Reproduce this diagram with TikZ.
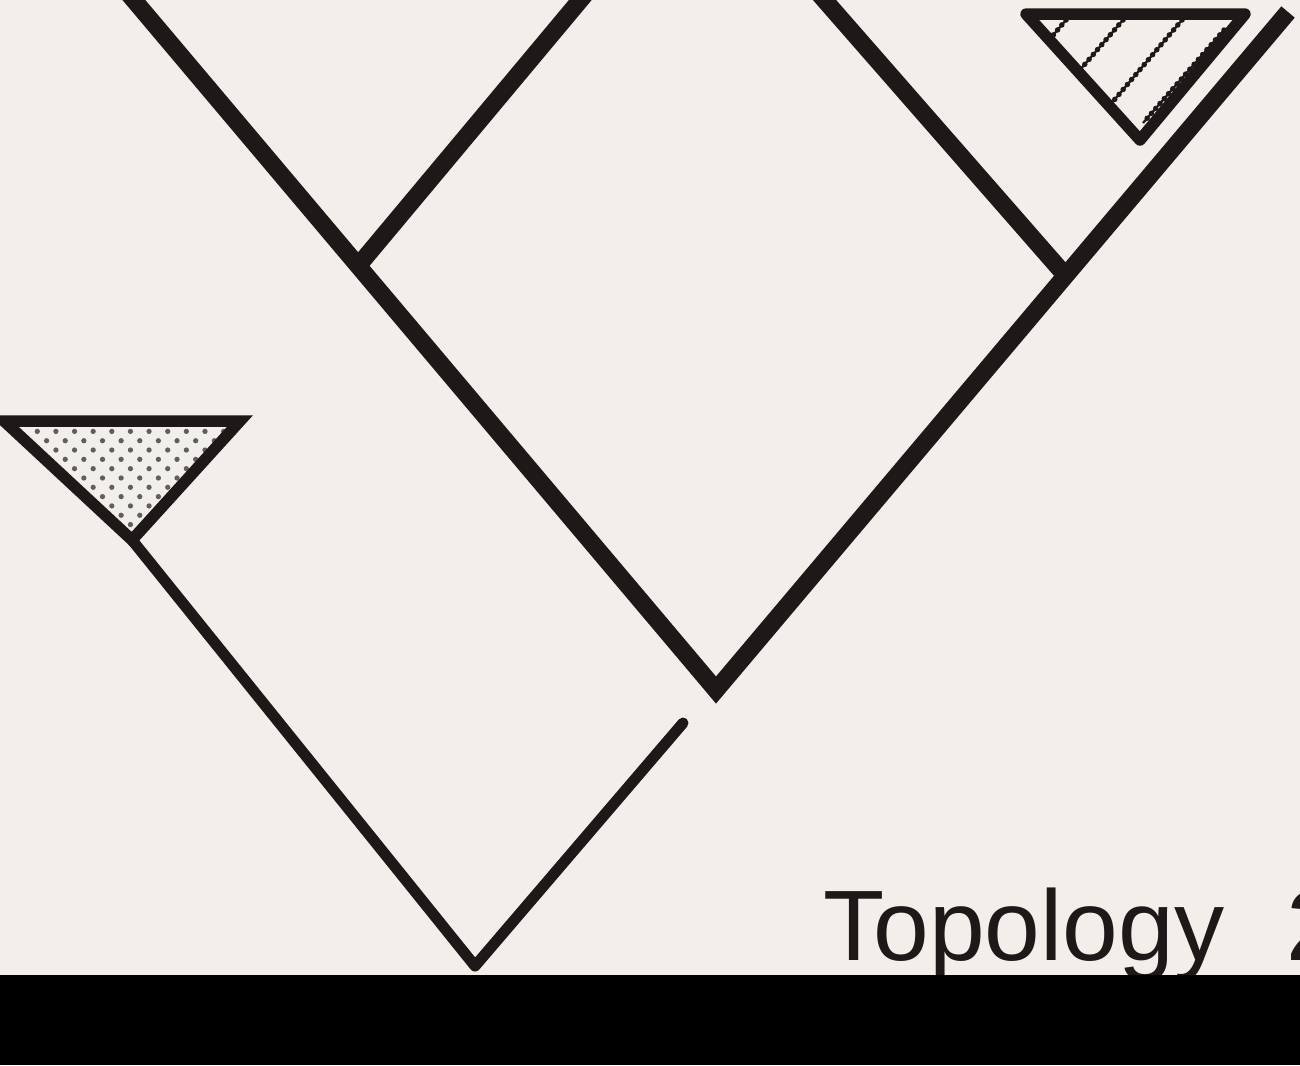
\documentclass[tikz,border=0pt]{standalone}
\usepackage{fontspec}
\newfontfamily\labelfont{Liberation Sans}
\usetikzlibrary{patterns.meta}
\definecolor{paper}{RGB}{242, 239, 235}
\definecolor{ink}{RGB}{30, 24, 24}
\definecolor{stipple}{RGB}{95, 95, 95}

\begin{document}
\begin{tikzpicture}[
        x=0.02cm, y=-0.02cm,
        stem/.style={draw=ink, line width=0.35cm, line join=miter},
        twig/.style={draw=ink, line width=0.22cm, line join=round, line cap=round},
        clade/.style={draw=ink, line width=0.23cm},
        hatchline/.style={
            draw=ink, line width=0.045cm,
            postaction={draw=ink, line width=0.11cm, line cap=round, dash pattern=on 0pt off 0.13cm}
        },
        caption/.style={text=ink, anchor=base west, inner sep=0pt,
            font=\labelfont\fontsize{57}{60}\selectfont}
    ]
    \clip (0,0) rectangle (1300,1065);
    \fill[paper] (0,0) rectangle (1300,1065);

    % main tree
    \coordinate (topleft) at (117,-20);
    \coordinate (fork1) at (358,266);
    \coordinate (tip1) at (597,-20);
    \coordinate (root) at (716,690);
    \coordinate (fork2) at (1065,275);
    \coordinate (tip2) at (807,-20);
    \coordinate (armend) at (1288,12);

    \draw[stem] (topleft) -- (root) -- (armend);
    \draw[stem] (fork1) -- (tip1);
    \draw[stem] (fork2) -- (tip2);

    % hatched clade
    \coordinate (h1) at (1026,14);
    \coordinate (h2) at (1245,14);
    \coordinate (h3) at (1140,140);
    \draw[clade, line join=round] (h1) -- (h2) -- (h3) -- cycle;
    \draw[hatchline] (1066,20) -- (1049,40);
    \draw[hatchline] (1123,20) -- (1079,71);
    \draw[hatchline] (1182,20) -- (1110,105);
    \draw[hatchline] (1224,30) -- (1143,123);

    % stippled clade and second tree
    \coordinate (s1) at (4,421);
    \coordinate (s2) at (240,421);
    \coordinate (s3) at (132,540);
    \coordinate (lowroot) at (475,966);
    \coordinate (lowend) at (683,723);
    \draw[clade, line join=miter, pattern={Dots[distance=7.5pt, radius=1.5pt, angle=45]},
        pattern color=stipple] (s1) -- (s2) -- (s3) -- cycle;
    \draw[twig] (s3) -- (lowroot) -- (lowend);

    \node[caption] (label) at (823,960) {Topology\hspace{1.25cm}2};

    \fill[black] (0,975) rectangle (1300,1065);
\end{tikzpicture}
\end{document}
